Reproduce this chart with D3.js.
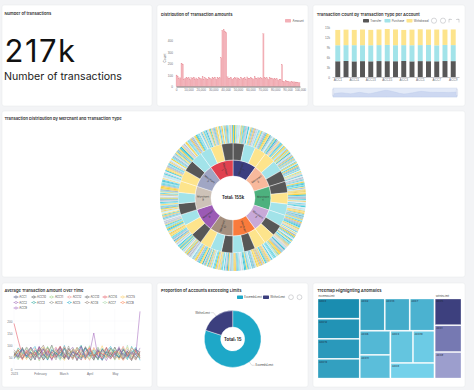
<!DOCTYPE html>
<html>
<head>
<meta charset="utf-8">
<script src="https://d3js.org/d3.v7.min.js"></script>
<style>
  body { margin: 0; background: #f3f4f6; }
  svg { display: block; font-family: Inter, "Noto Sans", sans-serif; }
  .title { font-size: 4.1px; font-weight: 600; fill: #2b2b2b; }
  .tick text { font-size: 3.1px; fill: #6e7079; }
  .small { font-size: 3.1px; fill: #555; }
</style>
</head>
<body>
<script>
// ---------- data ----------
var totalTransactions = '217k';

// histogram: counts per 1,000 bin from 0 to 100,000
var amountCounts = [100, 88, 70, 75, 200, 195, 65, 72, 80, 68, 75, 62, 78, 70, 82, 66, 74, 60, 79, 71,
  68, 84, 63, 76, 70, 58, 80, 73, 66, 77, 69, 82, 64, 75, 71, 78, 250, 490, 495, 480,
  470, 85, 68, 74, 79, 65, 72, 80, 67, 76, 70, 62, 81, 69, 74, 77, 64, 83, 72, 68,
  79, 71, 66, 85, 73, 70, 78, 67, 75, 72, 460, 80, 69, 76, 63, 78, 71, 74, 66, 73,
  60, 68, 55, 62, 58, 190, 48, 45, 52, 44, 47, 42, 40, 45, 38, 41, 36, 39, 33, 35];

var accounts = ['ACC1', 'ACC10', 'ACC11', 'ACC12', 'ACC13', 'ACC14', 'ACC15', 'ACC2', 'ACC3', 'ACC4', 'ACC5', 'ACC6', 'ACC7', 'ACC8', 'ACC9'];
var types = ['Transfer', 'Purchase', 'Withdrawal'];
var transferCounts = [4720, 4810, 4690, 4760, 4700, 4780, 4750, 4730, 4800, 4690, 4770, 4740, 4710, 4790, 4760];
var purchaseCounts = [4800, 4750, 4860, 4780, 4820, 4790, 4880, 4810, 4760, 4840, 4800, 4870, 4790, 4830, 4810];
var withdrawalCounts = [4600, 4650, 4580, 4700, 4620, 4690, 4770, 4720, 4560, 4680, 4750, 4640, 4740, 4610, 4700];
var typeColors = ['#575757', '#a2e3e9', '#fde48c'];

// sunburst: merchants clockwise from 12 o'clock, order of types inside each merchant
var merchants = ['Merchant 7', 'Merchant 3', 'Merchant 4', 'Merchant 5', 'Merchant 9', 'Merchant 10', 'Merchant 6', 'Merchant 8', 'Merchant 2', 'Merchant 1'];
var merchantColors = ['#3c3f80', '#f8b99c', '#4db17e', '#c8a9d8', '#f97b3c', '#a58f7e', '#9b5ab5', '#cdc2b8', '#a0a6c4', '#e0414f'];
var typeOrder = [[0, 1, 2], [2, 1, 0], [0, 2, 1], [1, 0, 2], [2, 0, 1], [0, 1, 2], [0, 2, 1], [0, 1, 2], [2, 0, 1], [1, 2, 0]];
var accountColors = ['#2bc3d7', '#f6c915', '#a7b4c9', '#b3e6ee', '#5ccfde', '#fbd96a', '#97a9c2', '#d3eef3', '#22b4ca', '#f1c53f', '#b9c3d3', '#86dbe7', '#e9c94e', '#c4cedb', '#43c9da'];
var leafCounts = [
  [310, 420, 280, 365, 330, 390, 295, 350, 405, 320, 270, 380, 340, 360, 300],
  [450, 260, 375, 310, 395, 285, 340, 430, 250, 365, 320, 290, 410, 335, 300],
  [290, 380, 330, 440, 270, 355, 400, 310, 345, 280, 425, 315, 360, 300, 385],
  [360, 300, 415, 275, 350, 390, 265, 335, 420, 305, 370, 285, 345, 395, 310],
  [270, 430, 320, 355, 300, 410, 345, 280, 380, 340, 295, 425, 310, 365, 330],
  [395, 315, 270, 400, 345, 290, 375, 330, 260, 415, 350, 305, 385, 280, 360],
  [330, 355, 410, 290, 380, 320, 300, 425, 345, 275, 395, 340, 265, 370, 350],
  [285, 390, 345, 330, 265, 405, 355, 300, 390, 320, 280, 370, 425, 310, 345],
  [420, 275, 300, 385, 340, 360, 290, 405, 315, 350, 335, 260, 380, 395, 300],
  [300, 345, 390, 265, 415, 330, 380, 290, 355, 400, 310, 350, 285, 340, 375],
  [355, 410, 285, 340, 300, 275, 420, 365, 330, 290, 385, 315, 350, 270, 395],
  [265, 330, 370, 410, 355, 300, 345, 275, 400, 335, 360, 290, 315, 425, 310],
  [380, 290, 335, 300, 425, 350, 270, 390, 305, 345, 280, 415, 330, 360, 320],
  [315, 365, 400, 350, 280, 385, 330, 310, 270, 420, 345, 300, 395, 290, 340],
  [405, 300, 260, 375, 330, 420, 310, 355, 385, 295, 350, 340, 275, 365, 330],
  [340, 275, 355, 395, 310, 265, 405, 330, 360, 380, 290, 425, 300, 345, 315],
  [290, 410, 340, 305, 390, 345, 280, 370, 325, 300, 415, 355, 335, 260, 395],
  [375, 335, 305, 280, 360, 400, 350, 295, 420, 330, 265, 310, 390, 345, 300],
  [300, 385, 420, 330, 275, 310, 395, 345, 290, 360, 340, 375, 280, 405, 320],
  [425, 290, 350, 365, 315, 280, 330, 400, 345, 270, 385, 300, 360, 335, 310],
  [335, 360, 275, 410, 345, 390, 300, 265, 370, 425, 305, 340, 315, 290, 380],
  [280, 315, 390, 340, 405, 355, 285, 350, 300, 335, 410, 265, 375, 320, 360],
  [390, 345, 310, 295, 265, 420, 375, 325, 355, 300, 340, 395, 270, 385, 300],
  [320, 400, 365, 275, 350, 300, 415, 290, 335, 380, 260, 345, 405, 310, 355],
  [365, 270, 330, 420, 300, 345, 320, 385, 280, 355, 395, 310, 340, 275, 410],
  [275, 395, 285, 350, 380, 320, 360, 415, 300, 265, 345, 390, 305, 430, 330],
  [410, 325, 345, 300, 290, 375, 270, 340, 395, 315, 360, 280, 420, 350, 300],
  [295, 350, 400, 385, 325, 265, 390, 305, 345, 410, 285, 335, 360, 300, 340],
  [345, 285, 320, 360, 415, 335, 300, 275, 390, 350, 325, 405, 290, 380, 315],
  [330, 380, 295, 315, 355, 410, 345, 360, 270, 305, 390, 325, 350, 295, 400]
];
var sunburstTotal = 'Total: 155k';

// average amount (thousands) every 5 days from 2023-01-01
var avgAmounts = {
  ACC1:  [62, 48, 85, 55, 70, 38, 92, 60, 45, 78, 66, 52, 88, 41, 73, 59, 95, 47, 68, 54, 81, 36, 71, 63, 49, 86, 57, 74, 42, 65, 58],
  ACC10: [55, 79, 43, 67, 90, 51, 62, 84, 39, 71, 58, 93, 46, 64, 77, 35, 69, 88, 53, 60, 44, 82, 67, 50, 91, 56, 40, 72, 61, 85, 48],
  ACC11: [70, 41, 63, 88, 52, 75, 34, 66, 94, 57, 45, 80, 62, 38, 86, 71, 49, 59, 97, 43, 68, 76, 54, 83, 37, 65, 89, 51, 73, 46, 60],
  ACC12: [58, 66, 50, 73, 44, 87, 61, 39, 76, 68, 92, 47, 55, 83, 60, 42, 78, 64, 36, 90, 57, 49, 85, 70, 43, 62, 95, 53, 67, 40, 72],
  ACC13: [64, 52, 90, 45, 69, 58, 81, 37, 63, 99, 50, 72, 41, 86, 55, 67, 46, 93, 60, 38, 75, 61, 48, 88, 66, 44, 79, 57, 35, 82, 69],
  ACC14: [190, 120, 56, 71, 48, 64, 89, 53, 77, 40, 68, 95, 59, 46, 82, 63, 37, 74, 87, 51, 66, 42, 91, 58, 70, 45, 84, 62, 39, 76, 55],
  ACC15: [47, 73, 61, 39, 84, 56, 70, 92, 44, 65, 80, 53, 36, 77, 68, 89, 50, 62, 43, 85, 59, 97, 48, 66, 74, 38, 63, 90, 52, 71, 64],
  ACC2:  [66, 55, 42, 80, 63, 47, 95, 58, 71, 36, 86, 60, 49, 74, 91, 40, 67, 56, 83, 45, 78, 62, 35, 70, 57, 93, 46, 81, 64, 50, 88],
  ACC3:  [51, 88, 67, 57, 38, 79, 62, 45, 90, 54, 70, 41, 84, 65, 48, 76, 99, 42, 58, 72, 37, 86, 61, 53, 79, 47, 68, 39, 94, 59, 44],
  ACC4:  [73, 45, 59, 92, 66, 40, 74, 87, 52, 63, 38, 79, 57, 96, 44, 61, 83, 55, 70, 36, 89, 50, 76, 64, 41, 87, 54, 60, 78, 43, 67],
  ACC5:  [42, 69, 81, 50, 75, 94, 45, 60, 37, 82, 64, 56, 98, 48, 71, 52, 40, 86, 65, 79, 53, 38, 72, 94, 60, 51, 83, 45, 69, 90, 36],
  ACC6:  [80, 59, 46, 68, 35, 62, 77, 99, 56, 44, 73, 85, 50, 67, 39, 91, 58, 47, 76, 63, 40, 70, 87, 46, 62, 78, 41, 66, 55, 37, 74],
  ACC7:  [60, 38, 74, 63, 86, 49, 57, 71, 43, 95, 61, 36, 69, 53, 81, 46, 72, 60, 39, 67, 92, 55, 44, 77, 85, 58, 50, 99, 41, 63, 52],
  ACC8:  [53, 82, 37, 78, 58, 70, 43, 65, 88, 49, 55, 67, 93, 57, 45, 80, 62, 38, 90, 54, 71, 65, 59, 41, 75, 69, 36, 56, 87, 74, 45],
  ACC9:  [45, 62, 78, 54, 91, 66, 40, 83, 57, 69, 47, 88, 64, 39, 72, 56, 93, 51, 66, 150, 48, 80, 59, 43, 67, 84, 62, 53, 71, 58, 240]
};
var lineColors = ['#2f3d6e', '#3a3a3a', '#91cc75', '#f08a8a', '#4a4a4a', '#e0414f', '#fac858', '#9a60b4', '#26a69a', '#8a8f87', '#1fa9c9', '#8d7b6f', '#a5d6a7', '#fc8452', '#9b59b6'];
var legendRows = [['ACC1', 'ACC10', 'ACC11', 'ACC12', 'ACC13', 'ACC14', 'ACC15'], ['ACC2', 'ACC3', 'ACC4', 'ACC5', 'ACC6', 'ACC7', 'ACC8'], ['ACC9']];

// donut
var limitLabels = ['ExceedsLimit', 'WithinLimit'];
var limitCounts = [12, 3];
var limitColors = ['#1ea8c8', '#3c3f7e'];

// treemap
var exceedAccounts = ['ACC3', 'ACC12', 'ACC15', 'ACC14', 'ACC2', 'ACC13', 'ACC7', 'ACC6', 'ACC11', 'ACC4', 'ACC10', 'ACC8'];
var exceedValues = [800, 795, 790, 785, 755, 753, 750, 692, 683, 679, 650, 648];
var withinAccounts = ['ACC5', 'ACC1', 'ACC9'];
var withinValues = [680, 677, 672];

// ---------- layout ----------
var svg = d3.select('body').append('svg').attr('width', 474).attr('height', 390);
svg.append('rect').attr('width', 474).attr('height', 390).attr('fill', '#f3f4f6');

var panels = [[2, 5, 150, 101], [157, 5, 151, 101], [313, 5, 152, 101], [2, 111, 463, 166],
  [2, 283, 150, 104], [157, 283, 151, 104], [313, 283, 152, 104]];
svg.selectAll('.panel').data(panels).enter().append('rect')
  .attr('class', 'panel')
  .attr('x', d => d[0]).attr('y', d => d[1]).attr('width', d => d[2]).attr('height', d => d[3])
  .attr('rx', 2).attr('fill', '#fff').attr('stroke', '#e7e8eb').attr('stroke-width', 0.5);

var titles = [['Number of transactions', 4.5, 14.6], ['Distribution of Transaction Amounts', 161, 15.5],
  ['Transaction Count by Transaction Type per Account', 316.8, 15.5],
  ['Transaction Distribution by Merchant and Transaction Type', 4.5, 119.6],
  ['Average Transaction Amount Over Time', 4.5, 291.8], ['Proportion of Accounts Exceeding Limits', 161, 291.8],
  ['Treemap Highlighting Anomalies', 317.3, 291.8]];
svg.selectAll('.title').data(titles).enter().append('text')
  .attr('class', 'title').attr('x', d => d[1]).attr('y', d => d[2]).text(d => d[0]);

// ---------- panel 1: KPI ----------
svg.append('text').attr('x', 4.5).attr('y', 61.5).attr('font-size', 31).attr('letter-spacing', 1.5)
  .attr('fill', '#111').text(totalTransactions);
svg.append('text').attr('x', 4).attr('y', 80).attr('font-size', 10.6).attr('fill', '#222').text('Number of transactions');

// ---------- panel 2: histogram ----------
var hx = d3.scaleLinear().domain([0, 100000]).range([176, 300]);
var hy = d3.scaleLinear().domain([0, 500]).range([86.5, 29]);
var binW = 1000;
svg.append('g').selectAll('rect').data(amountCounts).enter().append('rect')
  .attr('x', (d, i) => hx(i * binW)).attr('width', hx(binW) - hx(0))
  .attr('y', d => hy(d)).attr('height', d => hy(0) - hy(d))
  .attr('fill', '#f3b0b7').attr('stroke', '#e9979f').attr('stroke-width', 0.2);
var hxAxis = svg.append('g').attr('transform', 'translate(0,86.5)')
  .call(d3.axisBottom(hx).tickValues(d3.range(0, 100001, 10000)).tickFormat(d3.format(',')).tickSize(0).tickPadding(2.5));
hxAxis.select('.domain').attr('stroke', '#555').attr('stroke-width', 0.8);
var hyAxis = svg.append('g').attr('transform', 'translate(174,0)')
  .call(d3.axisLeft(hy).tickValues([0, 100, 200, 300, 400]).tickSize(0).tickPadding(1));
hyAxis.select('.domain').remove();
svg.append('text').attr('class', 'small').attr('transform', 'translate(165.5,58) rotate(-90)')
  .attr('text-anchor', 'middle').text('Count');
svg.append('rect').attr('x', 285).attr('y', 19).attr('width', 6).attr('height', 3.4).attr('rx', 0.6).attr('fill', '#f3b0b7');
svg.append('text').attr('class', 'small').attr('x', 292.5).attr('y', 21.8).text('Amount');

// ---------- panel 3: stacked bars ----------
var rows = accounts.map((a, i) => ({account: a, Transfer: transferCounts[i], Purchase: purchaseCounts[i], Withdrawal: withdrawalCounts[i]}));
var sx = d3.scaleBand().domain(accounts).range([332, 459]).padding(0.4);
var sy = d3.scaleLinear().domain([0, 15000]).range([77, 27]);
var series = d3.stack().keys(types)(rows);
svg.append('g').selectAll('g').data(series).enter().append('g')
  .attr('fill', (d, i) => typeColors[i])
  .selectAll('rect').data(d => d).enter().append('rect')
  .attr('x', d => sx(d.data.account)).attr('width', sx.bandwidth())
  .attr('y', d => sy(d[1])).attr('height', d => sy(d[0]) - sy(d[1]));
var sxAxis = svg.append('g').attr('transform', 'translate(0,77)')
  .call(d3.axisBottom(sx).tickSize(0).tickPadding(2).tickFormat((d, i) => i % 2 === 0 ? d : ''));
sxAxis.select('.domain').attr('stroke', '#6e7079').attr('stroke-width', 0.4);
var syAxis = svg.append('g').attr('transform', 'translate(330,0)')
  .call(d3.axisLeft(sy).tickValues([0, 3000, 6000, 9000, 12000, 15000]).tickSize(0).tickPadding(0)
    .tickFormat(d => d === 0 ? '0' : (d / 1000) + 'k'));
syAxis.select('.domain').remove();
var legend3 = [[363, 'Transfer'], [384.5, 'Purchase'], [406.5, 'Withdrawal']];
legend3.forEach((l, i) => {
  svg.append('rect').attr('x', l[0]).attr('y', 19).attr('width', 6).attr('height', 3.4).attr('rx', 0.6).attr('fill', typeColors[i]);
  svg.append('text').attr('class', 'small').attr('x', l[0] + 7.3).attr('y', 21.8).style('font-size', '2.8px').text(l[1]);
});
// toolbox icons
[434, 443].forEach(x => svg.append('circle').attr('cx', x).attr('cy', 20.7).attr('r', 2.6)
  .attr('fill', 'none').attr('stroke', '#8a8d94').attr('stroke-width', 0.35));
[450.5, 457.5].forEach((x, i) => svg.append('path')
  .attr('d', i === 0 ? `M${x - 1.5},${22.5} L${x - 1.5},${19.5} L${x + 1.5},${19.5} M${x - 1.5},${19.5} l1,-1` : `M${x + 1.5},${22.5} L${x + 1.5},${19.5} L${x - 1.5},${19.5} M${x + 1.5},${19.5} l-1,-1`)
  .attr('fill', 'none').attr('stroke', '#8a8d94').attr('stroke-width', 0.35));
// data zoom slider
var totals = rows.map(r => r.Transfer + r.Purchase + r.Withdrawal);
var zx = d3.scalePoint().domain(accounts).range([333, 457]);
var zy = d3.scaleLinear().domain([d3.min(totals) - 200, d3.max(totals) + 100]).range([96.5, 89]);
svg.append('rect').attr('x', 333).attr('y', 88).attr('width', 124).attr('height', 9)
  .attr('fill', '#e3eaf8').attr('stroke', '#cbd5ec').attr('stroke-width', 0.4);
svg.append('path').datum(totals)
  .attr('d', d3.area().x((d, i) => zx(accounts[i])).y0(97).y1(d => zy(d)).curve(d3.curveMonotoneX))
  .attr('fill', '#cdd8f1').attr('stroke', '#b5c4e8').attr('stroke-width', 0.3);
[333, 457].forEach(x => svg.append('rect').attr('x', x - 0.6).attr('y', 89.5).attr('width', 1.2).attr('height', 6)
  .attr('rx', 0.4).attr('fill', '#fff').attr('stroke', '#a9b7d8').attr('stroke-width', 0.3));

// ---------- panel 4: sunburst ----------
var tree = {name: 'root', children: merchants.map((m, mi) => ({
  name: m, color: merchantColors[mi],
  children: typeOrder[mi].map((t, k) => ({
    name: types[t], color: typeColors[t],
    children: leafCounts[mi * 3 + k].map((v, ai) => ({name: accounts[ai], color: accountColors[ai], value: v}))
  }))
}))};
var root = d3.hierarchy(tree).sum(d => d.value || 0);
root.each(n => { if (n.depth === 2) n.children.sort((a, b) => b.value - a.value); });
d3.partition().size([2 * Math.PI, 4])(root);
var radii = [0, 22, 38, 55, 73];
var cx = 233, cy = 198;
var arc = d3.arc().startAngle(d => d.x0).endAngle(d => d.x1)
  .innerRadius(d => radii[d.depth]).outerRadius(d => radii[d.depth + 1]);
var sun = svg.append('g').attr('transform', `translate(${cx},${cy})`);
sun.selectAll('path').data(root.descendants().filter(d => d.depth > 0)).enter().append('path')
  .attr('d', arc).attr('fill', d => d.data.color)
  .attr('stroke', '#fff').attr('stroke-width', d => d.depth === 3 ? 0.15 : 0.4);
sun.selectAll('.mlabel').data(root.children).enter().append('text')
  .attr('class', 'mlabel')
  .attr('transform', d => {
    var a = (d.x0 + d.x1) / 2, r = 30;
    var deg = a * 180 / Math.PI - 90;
    if (deg > 90) deg -= 180;
    return `translate(${r * Math.sin(a)},${-r * Math.cos(a)}) rotate(${deg})`;
  })
  .attr('text-anchor', 'middle').attr('font-size', 2.7).attr('fill', '#333')
  .each(function(d) {
    var parts = d.data.name.split(' ');
    d3.select(this).append('tspan').attr('x', 0).attr('dy', '-0.2em').text(parts[0]);
    d3.select(this).append('tspan').attr('x', 0).attr('dy', '1.1em').text(parts[1]);
  });
sun.append('text').attr('text-anchor', 'middle').attr('dy', '0.35em').attr('font-size', 4.2)
  .attr('font-weight', 700).attr('fill', '#222').text(sunburstTotal);

// ---------- panel 5: line chart ----------
var dates = d3.range(31).map(i => new Date(2023, 0, 1 + 5 * i));
var lx = d3.scaleTime().domain([new Date(2023, 0, 1), new Date(2023, 4, 31)]).range([14, 140]);
var ly = d3.scaleLinear().domain([0, 250]).range([369, 309]);
var lyTicks = [0, 50, 100, 150, 200];
svg.append('g').selectAll('line').data(lyTicks).enter().append('line')
  .attr('x1', 14).attr('x2', 140).attr('y1', d => ly(d)).attr('y2', d => ly(d))
  .attr('stroke', '#eef0f4').attr('stroke-width', 0.3);
var months = [new Date(2023, 0, 1), new Date(2023, 1, 1), new Date(2023, 2, 1), new Date(2023, 3, 1), new Date(2023, 4, 1)];
svg.append('g').selectAll('line').data(months).enter().append('line')
  .attr('x1', d => lx(d)).attr('x2', d => lx(d)).attr('y1', 309).attr('y2', 369)
  .attr('stroke', '#eef0f4').attr('stroke-width', 0.3);
var lxAxis = svg.append('g').attr('transform', 'translate(0,369)')
  .call(d3.axisBottom(lx).tickValues(months).tickSize(0).tickPadding(4)
    .tickFormat((d, i) => i === 0 ? '2023' : d3.timeFormat('%B')(d)));
lxAxis.select('.domain').attr('stroke', '#6e7079').attr('stroke-width', 0.3);
var lyAxis = svg.append('g').attr('transform', 'translate(13,0)')
  .call(d3.axisLeft(ly).tickValues(lyTicks).tickSize(0).tickPadding(0.5));
lyAxis.select('.domain').remove();
var lineGen = d3.line().x((d, i) => lx(dates[i])).y(d => ly(d));
var legendOrder = [].concat.apply([], legendRows);
svg.append('g').selectAll('path').data(legendOrder).enter().append('path')
  .attr('d', a => lineGen(avgAmounts[a]))
  .attr('fill', 'none').attr('stroke', (a, i) => lineColors[i]).attr('stroke-width', 0.5);
legendRows.forEach((row, r) => row.forEach((a, c) => {
  var x = 16 + c * 17.8, y = 297 + r * 5.5, col = lineColors[legendOrder.indexOf(a)];
  svg.append('line').attr('x1', x - 2.5).attr('x2', x + 2.5).attr('y1', y).attr('y2', y).attr('stroke', col).attr('stroke-width', 0.5);
  svg.append('circle').attr('cx', x).attr('cy', y).attr('r', 1.1).attr('fill', '#fff').attr('stroke', col).attr('stroke-width', 0.45);
  svg.append('text').attr('x', x + 3.3).attr('y', y + 1).attr('font-size', 2.8).attr('fill', '#444').text(a);
}));

// ---------- panel 6: donut ----------
var pie = d3.pie().sort(null)(limitCounts);
var dcx = 232.7, dcy = 339;
var darc = d3.arc().innerRadius(12).outerRadius(28.4);
var donut = svg.append('g').attr('transform', `translate(${dcx},${dcy})`);
donut.selectAll('path').data(pie).enter().append('path')
  .attr('d', darc).attr('fill', (d, i) => limitColors[i]).attr('stroke', '#fff').attr('stroke-width', 0.4);
donut.append('text').attr('text-anchor', 'middle').attr('dy', '0.35em').attr('font-size', 4.3)
  .attr('font-weight', 700).attr('fill', '#222').text('Total: ' + d3.sum(limitCounts));
pie.forEach((p, i) => {
  var a = (p.startAngle + p.endAngle) / 2;
  var px = 28.4 * Math.sin(a), py = -28.4 * Math.cos(a);
  var qx = 32.5 * Math.sin(a), qy = -32.5 * Math.cos(a);
  var side = Math.sin(a) >= 0 ? 1 : -1;
  var ex = qx + side * 3;
  donut.append('polyline').attr('points', `${px},${py} ${qx},${qy} ${ex},${qy}`)
    .attr('fill', 'none').attr('stroke', '#999').attr('stroke-width', 0.3);
  donut.append('text').attr('x', ex + side * 0.8).attr('y', qy + 1).attr('font-size', 2.8).attr('fill', '#444')
    .attr('text-anchor', side > 0 ? 'start' : 'end').text(limitLabels[i]);
});
var legend6 = [[237, 0], [263, 1]];
legend6.forEach(l => {
  svg.append('rect').attr('x', l[0]).attr('y', 295.5).attr('width', 6).attr('height', 3.4).attr('rx', 0.6).attr('fill', limitColors[l[1]]);
  svg.append('text').attr('x', l[0] + 7.3).attr('y', 298.3).attr('font-size', 2.8).attr('fill', '#444').text(limitLabels[l[1]]);
});
[291, 299.5].forEach(x => svg.append('circle').attr('cx', x).attr('cy', 297.2).attr('r', 2.4)
  .attr('fill', 'none').attr('stroke', '#8a8d94').attr('stroke-width', 0.35));

// ---------- panel 7: treemap ----------
var tmData = {name: 'root', children: [
  {name: 'ExceedsLimit', children: exceedAccounts.map((a, i) => ({name: a, value: exceedValues[i]}))},
  {name: 'WithinLimit', children: withinAccounts.map((a, i) => ({name: a, value: withinValues[i]}))}
]};
var tmRoot = d3.hierarchy(tmData).sum(d => d.value || 0).sort((a, b) => b.value - a.value);
d3.treemap().size([143, 85]).paddingTop(d => d.depth === 1 ? 6 : 0).paddingInner(1.2)(tmRoot);
var exceedColor = d3.scaleLinear().domain([0, exceedValues.length - 1]).range(['#1a8db0', '#74d1ea']);
var withinPalette = ['#3d407e', '#7679b2', '#9c9ecd'];
var tm = svg.append('g').attr('transform', 'translate(318,293)');
tm.selectAll('.grp').data(tmRoot.children).enter().append('text')
  .attr('x', d => d.x0 + 0.5).attr('y', d => d.y0 + 4).attr('font-size', 2.6).attr('fill', '#444').text(d => d.data.name);
tmRoot.children.forEach(g => {
  g.children.forEach((c, i) => {
    var col = g.data.name === 'ExceedsLimit' ? exceedColor(i) : withinPalette[i];
    tm.append('rect').attr('x', c.x0).attr('y', c.y0).attr('width', c.x1 - c.x0).attr('height', c.y1 - c.y0)
      .attr('fill', col).attr('stroke', '#fff').attr('stroke-width', 0.3);
    tm.append('text').attr('x', c.x0 + 1).attr('y', c.y0 + 3.4).attr('font-size', 2.6).attr('fill', '#1d2b3a').text(c.data.name);
  });
});
</script>
</body>
</html>
